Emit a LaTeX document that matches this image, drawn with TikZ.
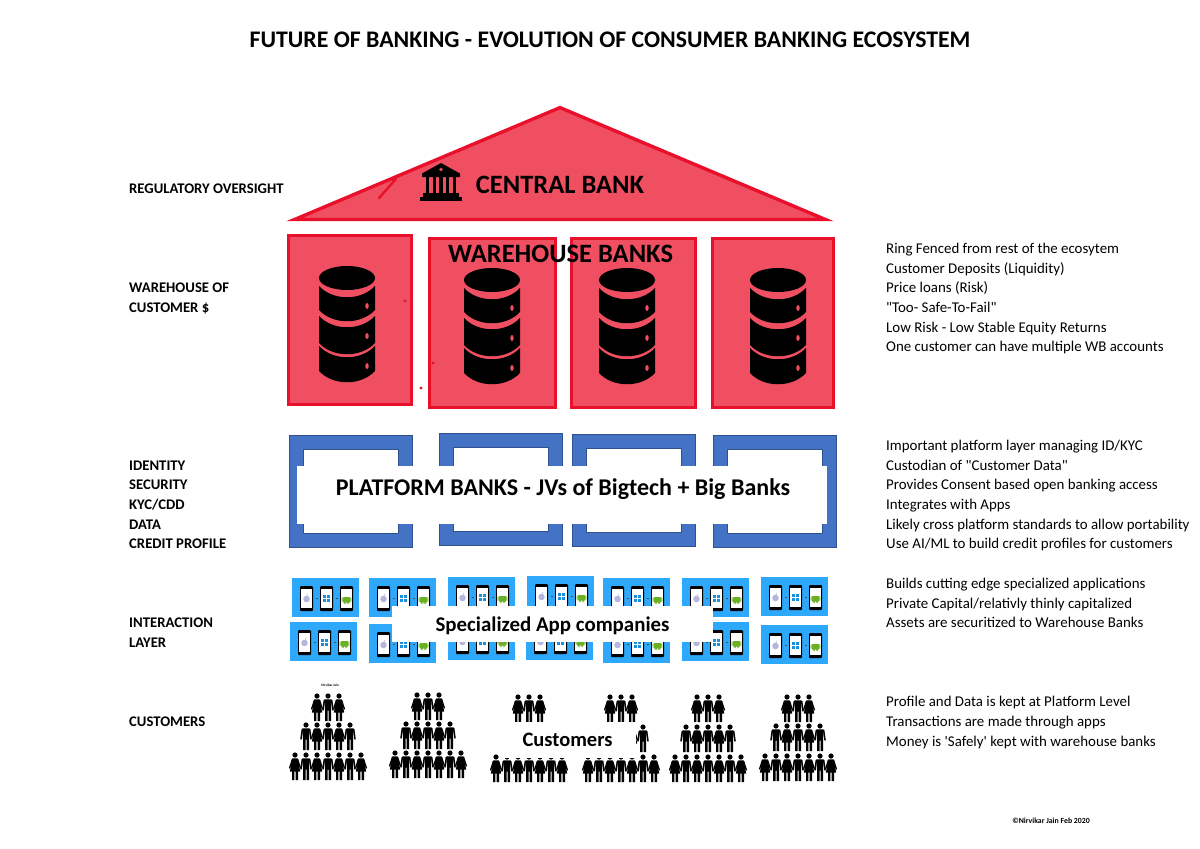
\documentclass[tikz,border=0pt]{standalone}
\usepackage{fontspec}
\setmainfont{Carlito}
\newfontfamily\plainface{Carlito}
\definecolor{bankred}{HTML}{E8102A}
\definecolor{bankpink}{HTML}{F04F62}
\definecolor{platblue}{HTML}{4472C4}
\definecolor{platedge}{HTML}{2F528F}
\definecolor{appblue}{HTML}{2EA8FB}
\definecolor{applegrey}{HTML}{B4B6DC}
\definecolor{winblue}{HTML}{1A8FDC}
\definecolor{droidgreen}{HTML}{6AB023}
\tikzset{
  wbank/.style={draw=bankred,fill=bankpink,line width=3pt},
  platframe/.style={draw=platedge,fill=platblue,line width=0.8pt,even odd rule},
  whiteband/.style={fill=white,draw=none},
  sidelabel/.style={anchor=mid west,inner sep=0pt,yshift=-3pt,font=\plainface\fontsize{14.7}{15}\selectfont\bfseries},
  sidenote/.style={anchor=mid west,inner sep=0pt,yshift=-3pt,font=\plainface\fontsize{14.9}{15}\selectfont},
  bigtitle/.style={inner sep=0pt,font=\fontsize{26.5}{27}\selectfont\bfseries},
  pics/dbicon/.style={code={
    \fill[black] (0,12) ellipse (28 and 12);
    \foreach \ya/\yb in {20/44,50/77,80/105}
      \fill[black] (-28,\ya) .. controls (-14,\ya+15) and (14,\ya+15) .. (28,\ya) -- (28,\yb)
        .. controls (14,\yb+15) and (-14,\yb+15) .. (-28,\yb) -- cycle;
    \foreach \yd in {40,70,100}
      \fill[bankpink] (20,\yd) ellipse (1.7 and 3);
  }},
  pics/phoneshell/.style={code={
    \fill[black,rounded corners=1pt] (0,0) rectangle (13,25);
    \fill[white] (0.8,3) rectangle (12.2,22);
  }},
  pics/appcard/.style={code={
    \fill[appblue] (0,0) rectangle (67,39);
    \foreach \dx in {8,28,48} \pic at (\dx,8) {phoneshell};
    \foreach \dx in {25,45} \fill[black!70] (\dx-0.6,20) rectangle ++(1.2,1.2);
    % apple, windows, android
    \fill[applegrey] (14.5,21) circle (3.3);
    \fill[applegrey] (14.6,17) -- (16,15.8) -- (15.6,17.6) -- cycle;
    \foreach \wx/\wy in {30.8/16.8,34.8/16.8,30.8/20.8,34.8/20.8}
      \fill[winblue] (\wx,\wy) rectangle ++(3.4,3.4);
    \fill[droidgreen] (51,19) arc (180:0:3.5 and 3.2) -- cycle;
    \fill[droidgreen] (51,19.7) rectangle (58,24.5) (52.3,24.5) rectangle (53.7,26.2) (55.3,24.5) rectangle (56.7,26.2);
    \fill[droidgreen] (49.6,19.7) rectangle (50.6,23.6) (58.4,19.7) rectangle (59.4,23.6);
  }},
  pics/manfig/.style={code={
    \fill[black] (0,0) circle (2.6);
    \fill[black] (-3.7,3.4) -- (3.7,3.4) -- (3,13.5) -- (3,25) -- (0.5,25) -- (0.5,14.5)
      -- (-0.5,14.5) -- (-0.5,25) -- (-3,25) -- (-3,13.5) -- cycle;
    \draw[black,line width=1.5pt,line cap=round] (-3.7,4.4) -- (-5,14) (3.7,4.4) -- (5,14);
  }},
  pics/womanfig/.style={code={
    \fill[black] (0,0) circle (2.6);
    \fill[black] (-2.6,3.4) -- (2.6,3.4) -- (5.2,16.5) -- (-5.2,16.5) -- cycle;
    \fill[black] (-3,16) rectangle (-0.7,25) (0.7,16) rectangle (3,25);
    \draw[black,line width=1.3pt,line cap=round] (-2.6,4.2) -- (-5.4,13) (2.6,4.2) -- (5.4,13);
  }},
}
\newcommand{\rowthree}{-11/womanfig,0/manfig,11/womanfig}
\newcommand{\rowfive}{-22/manfig,-11/womanfig,0/manfig,11/womanfig,22/manfig}
\newcommand{\rowseven}{-33/womanfig,-22/manfig,-11/womanfig,0/manfig,11/womanfig,22/manfig,33/womanfig}
\newcommand{\peoplerow}[3]{\foreach \dx/\kind in #3 {\pic at (#1+\dx,#2) {\kind};}}
\begin{document}
\begin{tikzpicture}[x=1pt,y=-1pt]
\useasboundingbox (0,0) rectangle (1200,849);
\node[inner sep=0pt,font=\fontsize{23.8}{24}\selectfont\bfseries] (title) at (610,40) {FUTURE OF BANKING - EVOLUTION OF CONSUMER BANKING ECOSYSTEM};
% roof and pillars
\draw[wbank,line width=3.4pt] (294.6,219.5) -- (560,107.6) -- (825.4,219.5) -- cycle;
\draw[bankred,line width=2.4pt,line cap=round] (379,198) -- (395,180) -- (391,179);
\foreach \xa/\ya/\xb/\yb in {288.5/235.5/411.5/404.5,429.5/238.5/555.5/407.5,571.5/238.5/695.5/407.5,712.5/238.5/833.5/407.5}
  \draw[wbank] (\xa,\ya) rectangle (\xb,\yb);
\foreach \dotx/\doty in {405/301,433/363,421/388}
  \fill[bankred] (\dotx,\doty) circle (1.7);
\foreach \dbx/\dby in {347/266,492/268,627/268,778/268}
  \pic at (\dbx,\dby) {dbicon};
% bank icon
\fill[black] (441,163) -- (460,173.5) -- (460,177) -- (422,177) -- (422,173.5) -- cycle;
\fill[bankpink] (441,169.5) circle (1.9);
\foreach \colx in {426,432.7,439.4,446.1,452.8}
  \fill[black] (\colx,177) rectangle ++(3.3,17);
\fill[black] (423,193) rectangle (459,197);
\fill[black] (420,197) rectangle (462,201);
\node[bigtitle] (central) at (560,185) {CENTRAL BANK};
\node[bigtitle] (wbanks) at (560.5,254) {WAREHOUSE BANKS};
% platform layer
\foreach \ox/\oy in {289/435,439/433,572/434,713/435}
  \draw[platframe] (\ox,\oy) rectangle ++(123,112) (\ox+14,\oy+14) rectangle ++(95,84);
\fill[whiteband] (297,466) rectangle (827,524);
\node[inner sep=0pt,font=\fontsize{24}{24}\selectfont\bfseries] (pbanks) at (563,489) {PLATFORM BANKS - JVs of Bigtech + Big Banks};
% app cards
\foreach \cx/\cy in {292/578,369/578,448/577,527/576,603/578,682/578,761/577,290/622,369/624,448/621,526/621,603/624,682/622,761/625}
  \pic at (\cx,\cy) {appcard};
\fill[whiteband] (392,606) rectangle (713,642);
\node[inner sep=0pt,font=\fontsize{20.9}{21}\selectfont\bfseries] (appcos) at (552.5,626) {Specialized App companies};
% customers
\foreach \cx/\ya/\yb/\yc in {328/696/725/755,428/695/724/753,529/697/727/757,621/697/727/757,708/697/727/757,798/697/726/756}{
  \peoplerow{\cx}{\ya}{\rowthree}
  \peoplerow{\cx}{\yb}{\rowfive}
  \peoplerow{\cx}{\yc}{\rowseven}
}
\fill[whiteband] (500.5,722) rectangle (636,757.5);
\node[inner sep=0pt,font=\fontsize{20.5}{21}\selectfont\bfseries] (custs) at (567.5,740) {Customers};
\node[inner sep=0pt,font=\fontsize{3.4}{4}\selectfont\bfseries] (tinyname) at (330,685) {Nirvikar Jain};
% left labels
\foreach \ty/\ttext [count=\i] in {188/REGULATORY OVERSIGHT,287/WAREHOUSE OF,307/CUSTOMER \$,465/IDENTITY,484/SECURITY,504/{KYC/CDD},524/DATA,543/CREDIT PROFILE,622/INTERACTION,642/LAYER,721/CUSTOMERS}
  \node[sidelabel] (lab\i) at (129,\ty) {\ttext};
% right notes
\foreach \ty/\ttext [count=\i] in {248/Ring Fenced from rest of the ecosytem,268/Customer Deposits (Liquidity),287/Price loans (Risk),307/"Too- Safe-To-Fail",327/Low Risk - Low Stable Equity Returns,346/One customer can have multiple WB accounts,
  445/{Important platform layer managing ID/KYC},465/Custodian of "Customer Data",484/Provides Consent based open banking access,504/Integrates with Apps,524/Likely cross platform standards to allow portability,543/{Use AI/ML to build credit profiles for customers},
  583/Builds cutting edge specialized applications,603/{Private Capital/relativly thinly capitalized},622/Assets are securitized to Warehouse Banks,
  701/Profile and Data is kept at Platform Level,721/Transactions are made through apps,741/Money is 'Safely' kept with warehouse banks}
  \node[sidenote] (note\i) at (886,\ty) {\ttext};
\node[inner sep=0pt,font=\fontsize{7.8}{8}\selectfont\bfseries] (credit) at (1051,821) {©Nirvikar Jain Feb 2020};
\end{tikzpicture}
\end{document}
